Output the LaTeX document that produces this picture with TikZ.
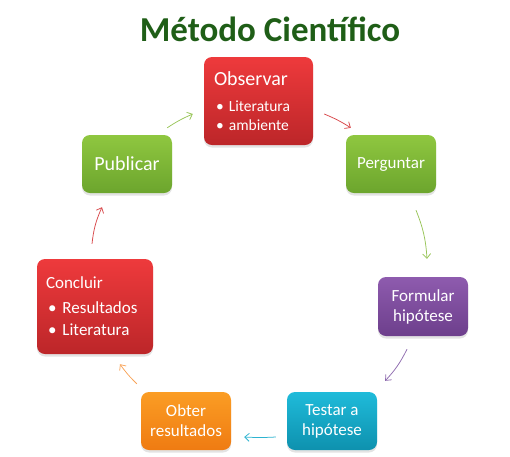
\documentclass[tikz,border=0pt]{standalone}
\usepackage{fontspec}
\setmainfont{Carlito}
\usetikzlibrary{shadows,arrows.meta}
\definecolor{MCTitle}{HTML}{1F5E17}
\definecolor{MCRedT}{HTML}{EE3A3C}
\definecolor{MCRedB}{HTML}{BC2629}
\definecolor{MCGreenT}{HTML}{8FC740}
\definecolor{MCGreenB}{HTML}{6CA52D}
\definecolor{MCPurpleT}{HTML}{8E5BAE}
\definecolor{MCPurpleB}{HTML}{6D3F8C}
\definecolor{MCCyanT}{HTML}{1FBBDA}
\definecolor{MCCyanB}{HTML}{0E91AE}
\definecolor{MCOrangeT}{HTML}{FB9D24}
\definecolor{MCOrangeB}{HTML}{EF7B12}
\definecolor{MCArRed}{HTML}{D8484B}
\definecolor{MCArGreen}{HTML}{97C457}
\definecolor{MCArPurple}{HTML}{8D6AAE}
\definecolor{MCArCyan}{HTML}{2DB3D0}
\definecolor{MCArOrange}{HTML}{F8A45A}
\tikzset{
  mcbox/.style={rounded corners=8pt,text=white,inner sep=0pt,align=center,
    drop shadow={opacity=.22,shadow xshift=0pt,shadow yshift=-2.5pt}},
  mclist/.style={mcbox,align=left,inner xsep=10pt,font=\fontsize{15.5}{19}\selectfont},
  mcred/.style={top color=MCRedT,bottom color=MCRedB},
  mcgreen/.style={top color=MCGreenT,bottom color=MCGreenB},
  mcpurple/.style={top color=MCPurpleT,bottom color=MCPurpleB},
  mccyan/.style={top color=MCCyanT,bottom color=MCCyanB},
  mcorange/.style={top color=MCOrangeT,bottom color=MCOrangeB},
  mcstep/.style={mcbox,minimum width=90pt,minimum height=58pt,font=\fontsize{17}{20}\selectfont},
  mcarrow/.style={line width=.75pt,-{Straight Barb[length=4.5pt,width=8pt]}}
}
\begin{document}
\begin{tikzpicture}[x=1pt,y=-1pt]
\path[use as bounding box] (0,0) rectangle (510,456);
\node[text=MCTitle,font=\fontsize{35}{40}\selectfont\bfseries] (title) at (270,29) {Método Científico};
\node[mclist,mcred,text width=89pt,minimum height=88pt] (obs) at (258.5,101)
  {{\fontsize{20}{24}\selectfont Observar}\\[7pt]\hspace{2pt}\textbullet\ Literatura\\\hspace{2pt}\textbullet\ ambiente};
\node[mcstep,mcgreen,font=\fontsize{20}{24}\selectfont] (pub) at (127,164) {Publicar};
\node[mcstep,mcgreen] (per) at (391,164) {Perguntar};
\node[mclist,mcred,text width=98pt,inner xsep=9pt,minimum height=95pt,font=\fontsize{17}{22}\selectfont] (con) at (95,306.5)
  {Concluir\\[3pt]\hspace{2pt}\textbullet\hspace{6pt}Resultados\\\hspace{2pt}\textbullet\hspace{6pt}Literatura};
\node[mcstep,mcpurple,minimum height=59pt] (for) at (423,306.5) {Formular\\hipótese};
\node[mcstep,mcorange] (obt) at (186,421) {Obter\\resultados};
\node[mcstep,mccyan] (tes) at (332,421) {Testar a\\hipótese};
\draw[mcarrow,MCArGreen] ([xshift=-5pt,yshift=7pt]pub.north east) to[bend left=5] ([xshift=-11pt,yshift=-13pt]obs.west);
\draw[mcarrow,MCArRed] ([xshift=11pt,yshift=-13pt]obs.east) to[bend left=5] ([xshift=5pt,yshift=7pt]per.north west);
\draw[mcarrow,MCArGreen] ([xshift=25pt,yshift=-17pt]per.south) to[bend left=9] ([xshift=4pt,yshift=18pt]for.north);
\draw[mcarrow,MCArPurple] ([xshift=-16pt,yshift=-13pt]for.south) to[bend left=8] ([xshift=8pt,yshift=11pt]tes.north east);
\draw[mcarrow,MCArCyan] ([xshift=-11pt,yshift=-16pt]tes.west) to[bend left=3] ([xshift=13pt,yshift=-16pt]obt.east);
\draw[mcarrow,MCArOrange] ([xshift=-4pt,yshift=8pt]obt.north west) to[bend left=5] ([xshift=25pt,yshift=-10pt]con.south);
\draw[mcarrow,MCArRed] ([xshift=-3pt,yshift=15pt]con.north) to[bend left=9] ([xshift=-25pt,yshift=-14pt]pub.south);
\end{tikzpicture}
\end{document}
